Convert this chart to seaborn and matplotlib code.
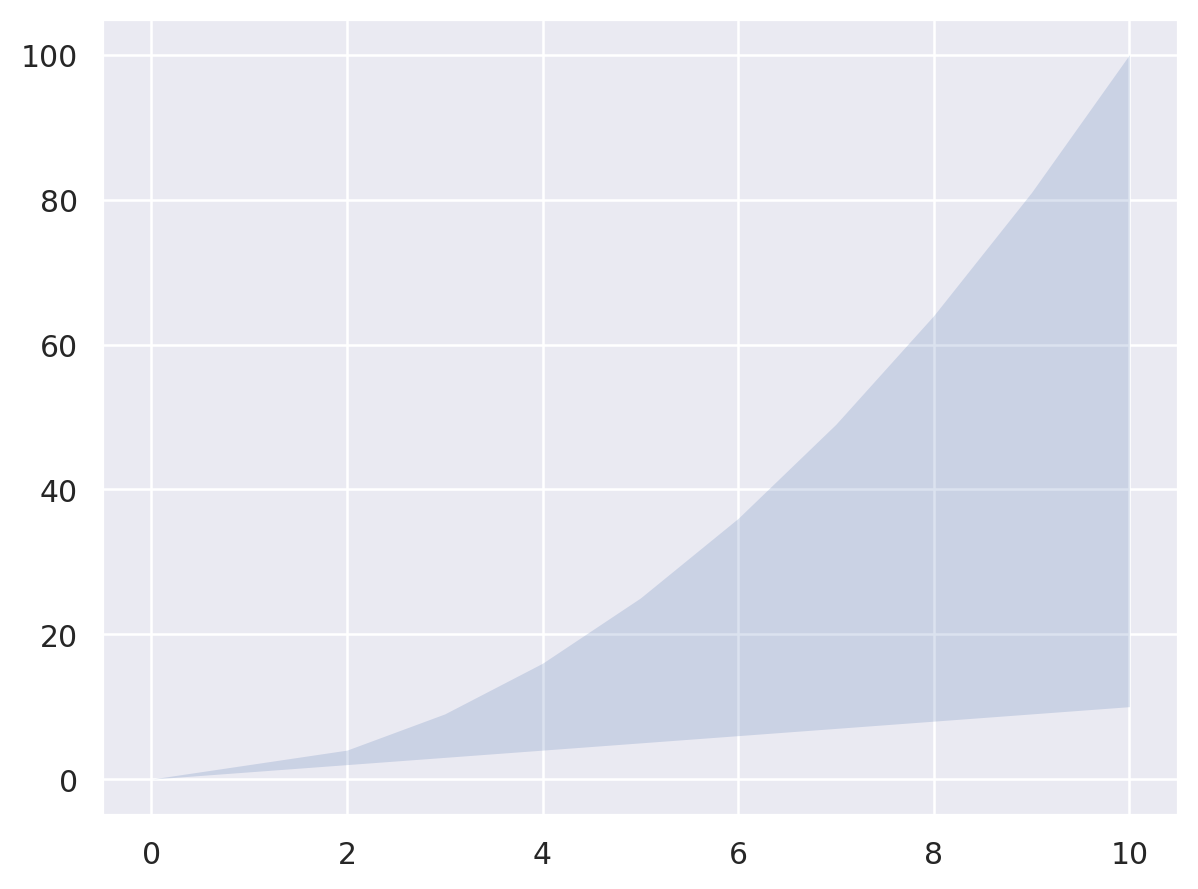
import matplotlib
matplotlib.use("Agg")
import matplotlib.pyplot as plt
import seaborn as sns

# -------------------------------------------------
# Plot Settings
# -------------------------------------------------
sns.set_theme(style="darkgrid")

# -------------------------------------------------
# Data
# -------------------------------------------------
x_values = [0, 2, 3, 4, 5, 6, 7, 8, 9, 10]
lower_values = [0, 2, 3, 4, 5, 6, 7, 8, 9, 10]
upper_values = [0, 4, 9, 16, 25, 36, 49, 64, 81, 100]

# -------------------------------------------------
# Figure
# -------------------------------------------------
fig, ax = plt.subplots(figsize=(1198 / 187.2, 890 / 187.2), dpi=187.2)

ax.fill_between(
    x_values,
    lower_values,
    upper_values,
    color=sns.color_palette()[0],
    alpha=0.2,
    linewidth=0
)

ax.set_xticks([0, 2, 4, 6, 8, 10])
ax.set_yticks([0, 20, 40, 60, 80, 100])
ax.tick_params(labelsize=11.5)

plt.subplots_adjust(left=0.0855, right=0.9835, top=0.978, bottom=0.0828)
plt.savefig("out.png", dpi=187.2)
